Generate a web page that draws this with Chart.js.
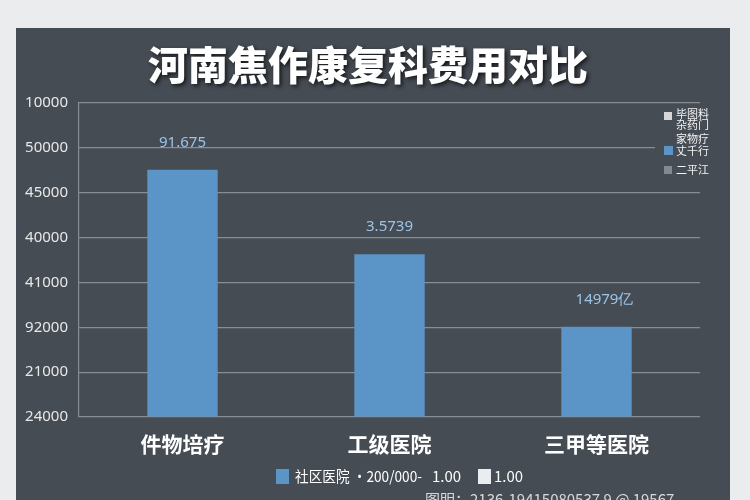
<!DOCTYPE html>
<html>
<head>
<meta charset="utf-8">
<script src="https://cdn.jsdelivr.net/npm/chart.js@4/dist/chart.umd.min.js"></script>
<style>
    html, body { margin: 0; padding: 0; background: #ebecee; }
    #wrap { width: 750px; height: 500px; position: relative; }
</style>
</head>
<body>
<div id="wrap"><canvas id="costChart" width="750" height="500"></canvas></div>
<script>
// Chart data
const titleText = '河南焦作康复科费用对比';
const categories = ['件物培疗', '工级医院', '三甲等医院'];
const costValues = [55100, 36300, 20100];
const valueLabels = ['91.675', '3.5739', '14979亿'];
const yTickLabels = ['24000', '21000', '92000', '41000', '40000', '45000', '50000', '10000'];
const seriesLabels = ['社区医院 ·200/000-', '1.00', '1.00'];
const sideLegend = [['毕图料', '杂药门'], ['家物疗', '丈千行'], ['二平江']];
const footerText = '图明：2136-19415080537 9 @ 19567';

// Colors
const theme = {
    panel: '#464c54',
    grid: 'rgba(190, 194, 200, 0.55)',
    text: '#e8e8e8',
    bar: '#5b95c8',
    valueText: '#9cc4e8',
    boxWhite: '#e9edf0'
};

// Dark panel, title, legends and footer
const decorPlugin = {
    id: 'decor',
    beforeDraw(chart) {
        const ctx = chart.ctx;
        ctx.save();
        ctx.fillStyle = theme.panel;
        ctx.fillRect(16, 28, 714, 472);
        ctx.restore();
    },
    afterDatasetsDraw(chart) {
        const ctx = chart.ctx;
        const meta = chart.getDatasetMeta(0);
        ctx.save();
        ctx.font = '15px "Noto Sans"';
        ctx.fillStyle = theme.valueText;
        ctx.textAlign = 'center';
        ctx.textBaseline = 'middle';
        meta.data.forEach((bar, i) => {
            ctx.fillText(valueLabels[i], bar.x + (i === 2 ? 8 : 0), bar.y - 27);
        });
        ctx.restore();
    },
    afterDraw(chart) {
        const ctx = chart.ctx;
        ctx.save();
        ctx.textBaseline = 'middle';

        // title
        ctx.font = '900 40px "Noto Sans CJK SC"';
        ctx.textAlign = 'center';
        ctx.shadowColor = 'rgba(0,0,0,0.7)';
        ctx.shadowBlur = 4;
        ctx.shadowOffsetX = 2;
        ctx.shadowOffsetY = 2;
        ctx.fillStyle = '#ffffff';
        ctx.fillText(titleText, 368, 65);
        ctx.shadowColor = 'transparent';

        // side legend (top right)
        ctx.fillStyle = theme.panel;
        ctx.fillRect(655, 108, 60, 76);
        ctx.font = '11px "Noto Sans CJK SC"';
        ctx.textAlign = 'left';
        ctx.fillStyle = '#d6d6d6';
        ctx.fillRect(664, 112, 8, 8);
        ctx.fillStyle = theme.bar;
        ctx.fillRect(664, 146, 9, 9);
        ctx.fillStyle = '#85898f';
        ctx.fillRect(664, 166, 8, 8);
        ctx.fillStyle = '#f2f2f2';
        ctx.fillText(sideLegend[0][0], 676, 114);
        ctx.fillText(sideLegend[0][1], 676, 125);
        ctx.fillText(sideLegend[1][0], 676, 139);
        ctx.fillText(sideLegend[1][1], 676, 151);
        ctx.fillText(sideLegend[2][0], 676, 170);

        // bottom legend
        ctx.font = '15px "Noto Sans CJK SC"';
        ctx.fillStyle = theme.bar;
        ctx.fillRect(276, 469, 13, 15);
        ctx.fillStyle = '#ffffff';
        ctx.fillText(seriesLabels[0], 295, 476, 127);
        ctx.fillText(seriesLabels[1], 432, 476, 31);
        ctx.fillStyle = theme.boxWhite;
        ctx.fillRect(478, 469, 13, 15);
        ctx.fillStyle = '#ffffff';
        ctx.fillText(seriesLabels[2], 494, 476, 29);

        // footer (cut off at bottom edge)
        ctx.font = '15px "Noto Sans CJK SC"';
        ctx.fillStyle = '#d8d8d8';
        ctx.fillText(footerText, 425, 499);
        ctx.restore();
    }
};

const chart = new Chart(document.getElementById('costChart'), {
    type: 'bar',
    data: {
        labels: categories,
        datasets: [{
            label: seriesLabels[0],
            data: costValues,
            backgroundColor: theme.bar,
            borderWidth: 0,
            categoryPercentage: 1,
            barPercentage: 0.34
        }]
    },
    options: {
        responsive: false,
        animation: false,
        layout: { padding: { top: 103, right: 50, bottom: 20, left: 0 } },
        plugins: {
            legend: { display: false },
            tooltip: { enabled: false }
        },
        scales: {
            y: {
                min: 0,
                max: 70000,
                afterFit(scale) { scale.width = 79; },
                ticks: {
                    stepSize: 10000,
                    padding: 11,
                    color: theme.text,
                    font: { family: 'Noto Sans', size: 15 },
                    callback: (v, i) => yTickLabels[i]
                },
                grid: { color: theme.grid, lineWidth: 1.2, drawTicks: false },
                border: { display: true, color: theme.grid, width: 1.2 }
            },
            x: {
                afterFit(scale) { scale.height = 63; },
                ticks: {
                    padding: 6,
                    color: '#ffffff',
                    font: { family: 'Noto Sans CJK SC', size: 21, weight: 'bold' }
                },
                grid: { display: false },
                border: { display: false }
            }
        }
    },
    plugins: [decorPlugin]
});
</script>
</body>
</html>
